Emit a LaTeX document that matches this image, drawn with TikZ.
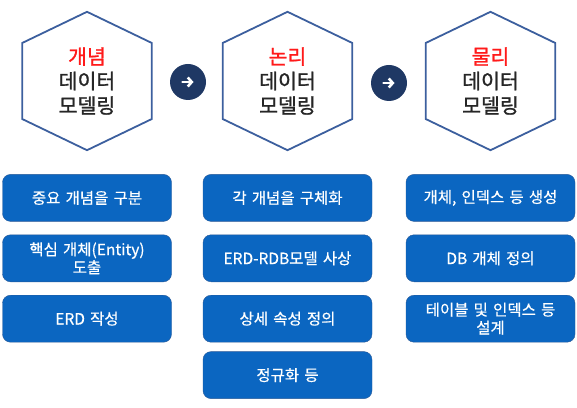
\documentclass[tikz,border=0pt]{standalone}
\usepackage{fontspec}
\setmainfont{Noto Sans CJK KR}
\usepackage{tikz}
\usetikzlibrary{arrows.meta,positioning,calc}
\definecolor{modelLine}{HTML}{3C5F9E}
\definecolor{modelRed}{HTML}{FF1A1A}
\definecolor{modelInk}{HTML}{262626}
\definecolor{modelBlue}{HTML}{0B66C1}
\definecolor{modelEdge}{HTML}{2A5A98}
\definecolor{modelNavy}{HTML}{1F3864}
\tikzset{
  hexzone/.style={rectangle, minimum width=129pt, minimum height=138pt, align=center, text=modelInk, font=\fontsize{20.5}{24.5}\selectfont\addfontfeature{FakeBold=1.2}},
  hexline/.style={draw=modelLine, line width=1.8pt, line join=miter},
  stepbox/.style={rectangle, rounded corners=8pt, draw=modelEdge, fill=modelBlue, text=white, align=center, minimum width=169pt, minimum height=47pt, text width=160pt, font=\fontsize{15.5}{18}\selectfont\addfontfeature{FakeBold=0.5}},
  nextdot/.style={circle, fill=modelNavy, minimum size=36pt, inner sep=0pt},
  nextarrow/.style={-{Straight Barb[length=4pt,width=9pt]}, white, line width=2.6pt, line cap=round}
}

\begin{document}
\begin{tikzpicture}[x=1pt, y=1pt, node distance=13pt]
  \useasboundingbox (0,0) rectangle (577,407);

  % three modelling stages
  \node[hexzone] (concept) at (87,326) {{\color{modelRed}개념}\\데이터\\모델링};
  \node[hexzone] (logical) at (287.5,326) {{\color{modelRed}논리}\\데이터\\모델링};
  \node[hexzone] (physical) at (490.5,326) {{\color{modelRed}물리}\\데이터\\모델링};
  \foreach \n in {concept,logical,physical}
    \draw[hexline] (\n.north) -- ($(\n.north east)!.225!(\n.south east)$)
      -- ($(\n.south east)!.225!(\n.north east)$) -- (\n.south)
      -- ($(\n.south west)!.225!(\n.north west)$)
      -- ($(\n.north west)!.225!(\n.south west)$) -- cycle;

  \node[nextdot] (next1) at (188,325) {};
  \node[nextdot] (next2) at (389,324) {};
  \foreach \n in {next1,next2}
    \draw[nextarrow] ([xshift=-5.5pt]\n.center) -- ([xshift=5.5pt]\n.center);

  % concept column
  \node[stepbox, below=24pt of concept] (c1) {중요 개념을 구분};
  \node[stepbox, below=of c1] (c2) {핵심 개체(Entity)\\도출};
  \node[stepbox, below=of c2] (c3) {ERD 작성};

  % logical column
  \node[stepbox, below=24pt of logical] (l1) {각 개념을 구체화};
  \node[stepbox, below=of l1] (l2) {ERD-RDB모델 사상};
  \node[stepbox, below=of l2] (l3) {상세 속성 정의};
  \node[stepbox, below=9pt of l3] (l4) {정규화 등};

  % physical column
  \node[stepbox, below=24pt of physical] (p1) {개체, 인덱스 등 생성};
  \node[stepbox, below=of p1] (p2) {DB 개체 정의};
  \node[stepbox, below=of p2] (p3) {테이블 및 인덱스 등\\설계};
\end{tikzpicture}
\end{document}
